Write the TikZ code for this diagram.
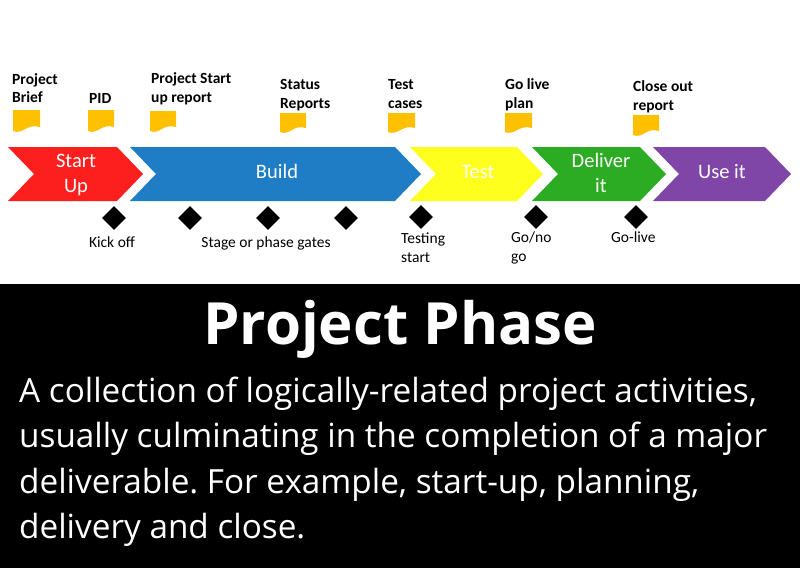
\documentclass[tikz,border=0pt]{standalone}
\usepackage{fontspec}
\setmainfont{Open Sans}
\newfontfamily\carl{Carlito}
\usetikzlibrary{shapes.geometric}
\definecolor{cRed}{RGB}{253,30,30}
\definecolor{cBlue}{RGB}{31,125,198}
\definecolor{cYellow}{RGB}{255,255,30}
\definecolor{cGreen}{RGB}{44,172,34}
\definecolor{cPurple}{RGB}{127,70,168}
\definecolor{cNote}{RGB}{255,192,0}
\newcommand{\chevpath}[3]{\fill[#1] (#2,147) -- (#3,147) -- ({#3+26},174) -- (#3,201) -- (#2,201) -- ({#2+26},174) -- cycle;}
\newcommand{\notepath}[4]{\fill[cNote] (#1,#3) -- (#2,#3) -- (#2,{#4-5}) .. controls ({#2-13},{#4-9}) and ({#1+10},{#4+3}) .. (#1,{#4-1}) -- cycle;}
\frenchspacing
\begin{document}
\begin{tikzpicture}[x=1pt,y=-1pt,
  chevtxt/.style={text=white,font=\carl\fontsize{20.5}{25}\selectfont,align=center,inner sep=0},
  toplbl/.style={font=\carl\bfseries\fontsize{15.5}{18.5}\selectfont,align=left,inner sep=0,anchor=west},
  botlbl/.style={font=\carl\fontsize{15.5}{19}\selectfont,align=left,inner sep=0},
  gate/.style={diamond,fill=black,minimum width=24,minimum height=24,inner sep=0}]
\useasboundingbox (0,0) rectangle (800,568);
\fill[white] (0,0) rectangle (800,284);
\fill[black] (0,284) rectangle (800,568);
% chevrons
\chevpath{cRed}{8}{117}
\chevpath{cBlue}{130}{395}
\chevpath{cYellow}{410}{517}
\chevpath{cGreen}{532}{640}
\chevpath{cPurple}{653}{765}
\node[chevtxt] (startup) at (76,175) {\strut Start\\\strut Up};
\node[chevtxt] (build) at (277,173.6) {\strut Build};
\node[chevtxt] (test) at (478,173.6) {\strut Test};
\node[chevtxt] (deliver) at (601,175) {\strut Deliver\\\strut it};
\node[chevtxt] (useit) at (722,173.6) {\strut Use it};
% notes
\notepath{13}{40}{110}{132}
\notepath{88}{114}{110}{132}
\notepath{150}{176}{111}{132}
\notepath{280}{306}{113}{133}
\notepath{388}{415}{113}{133}
\notepath{505}{532}{113}{133}
\notepath{633}{659}{115}{136}
% top labels
\node[toplbl] (brief) at (12,90) {\strut Project\\\strut Brief};
\node[toplbl] (pid) at (89,99.3) {\strut PID};
\node[toplbl] (psr) at (151,89.5) {\strut Project Start\\\strut up report};
\node[toplbl] (status) at (280,95.5) {\strut Status\\\strut Reports};
\node[toplbl] (testcases) at (388,95.5) {\strut Test\\\strut cases};
\node[toplbl] (golivePlan) at (505,95.5) {\strut Go live\\\strut plan};
\node[toplbl] (closeout) at (633,97.5) {\strut Close out\\\strut report};
% gates
\node[gate] (g1) at (114,218) {};
\node[gate] (g2) at (190,218) {};
\node[gate] (g3) at (268,218) {};
\node[gate] (g4) at (346,218) {};
\node[gate] (g5) at (421,217) {};
\node[gate] (g6) at (536,217) {};
\node[gate] (g7) at (636,217) {};
% bottom labels
\node[botlbl] (kick) at (112,243.2) {\strut Kick off};
\node[botlbl] (stage) at (266,243.2) {\strut Stage or phase gates};
\node[botlbl,anchor=west] (testing) at (401,248.7) {\strut Testing\\\strut start};
\node[botlbl,anchor=west] (gono) at (511,247.7) {\strut Go/no\\\strut go};
\node[botlbl,anchor=west] (golive) at (611,238.2) {\strut Go-live};
% title and body
\node[text=white,font=\bfseries\fontsize{58.2}{60}\selectfont,inner sep=0,anchor=base] (title) at (400,344) {Project Phase};
\node[text=white,font=\fontsize{33.3}{45.5}\selectfont,align=left,inner sep=0,anchor=north west] (body) at (19,370.15)
 {\strut A collection of logically-related project activities,\\
  \strut usually culminating in the completion of a major\\
  \strut deliverable. For example, start-up, planning,\\
  \strut delivery and close.};
\end{tikzpicture}
\end{document}
